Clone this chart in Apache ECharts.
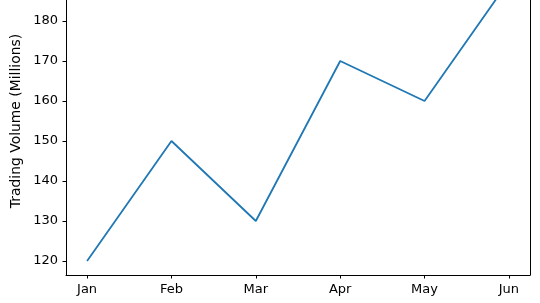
<!DOCTYPE html>
<html><head><meta charset="utf-8">
<script src="https://cdn.jsdelivr.net/npm/echarts@6/dist/echarts.min.js"></script>
<style>html,body{margin:0;padding:0;background:#fff}#c{width:540px;height:303px}</style>
</head><body><div id="c"></div>
<script>
const months = ['Jan','Feb','Mar','Apr','May','Jun'];
const volumes = [120,150,130,170,160,190];
const yTicks = [120,130,140,150,160,170,180];
const xTicks = [0,1,2,3,4,5];
const yTitle = 'Trading Volume (Millions)';

const chart = echarts.init(document.getElementById('c'), null, {renderer:'canvas'});
const font = 'DejaVu Sans';
const fs = 13;
chart.setOption({
  animation:false,
  grid:{left:66,right:10,top:0,bottom:28,show:false},
  graphic:[{type:'text',x:16.5,y:121,rotation:Math.PI/2,
    style:{text:yTitle,font:'13.9px "DejaVu Sans"',fill:'#000',align:'center',verticalAlign:'middle'}}],
  xAxis:{type:'value',min:-0.25,max:5.25,
    axisLine:{show:true,onZero:false,lineStyle:{color:'#000',width:1}},
    axisTick:{show:true,length:3.5,customValues:xTicks,lineStyle:{color:'#000'}},
    axisLabel:{customValues:xTicks,margin:8,color:'#000',fontFamily:font,fontSize:fs,
      formatter:v=>months[Math.round(v)]},
    splitLine:{show:false}},
  yAxis:[{type:'value',min:116.5,max:185.25,
    axisLine:{show:true,onZero:false,lineStyle:{color:'#000',width:1}},
    axisTick:{show:true,length:3.5,customValues:yTicks,lineStyle:{color:'#000'}},
    axisLabel:{customValues:yTicks,margin:8,color:'#000',fontFamily:font,fontSize:fs},
    splitLine:{show:false}},
   {type:'value',min:116.5,max:185.25,position:'right',
    axisLine:{show:true,onZero:false,lineStyle:{color:'#000',width:1}},
    axisTick:{show:false},axisLabel:{show:false},splitLine:{show:false}}],
  series:[{type:'line',data:volumes.map((v,i)=>[i,v]),symbol:'none',clip:true,
    lineStyle:{color:'#1f77b4',width:1.8}}]
});
</script></body></html>
